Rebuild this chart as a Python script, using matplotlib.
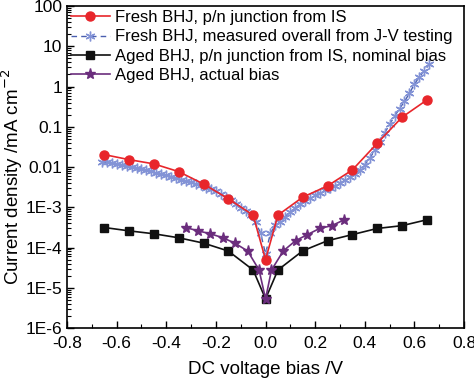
import matplotlib
matplotlib.use("Agg")
import matplotlib.pyplot as plt
from matplotlib.ticker import FixedLocator, LogLocator, NullFormatter, MultipleLocator

plt.rcParams['font.family'] = ['Liberation Sans', 'DejaVu Sans']

# Fresh BHJ, p/n junction from IS
fresh_is_v = [-0.65, -0.55, -0.45, -0.35, -0.25, -0.15, -0.05, 0.0,
              0.05, 0.15, 0.25, 0.35, 0.45, 0.55, 0.65]
fresh_is_j = [0.0204, 0.0153, 0.0120, 0.0077, 0.0038, 0.00163, 0.00064, 5.0e-5,
              0.00064, 0.00179, 0.0034, 0.0085, 0.039, 0.173, 0.464]

# Fresh BHJ, measured overall from J-V testing
fresh_jv_v = [-0.66, -0.64, -0.62, -0.60, -0.58, -0.56, -0.54, -0.52, -0.50, -0.48,
              -0.46, -0.44, -0.42, -0.40, -0.38, -0.36, -0.34, -0.32, -0.30, -0.28,
              -0.26, -0.24, -0.22, -0.20, -0.18, -0.16, -0.14, -0.12, -0.10, -0.08,
              -0.06, -0.04, -0.02, 0.0, 0.02, 0.04, 0.06, 0.08, 0.10, 0.12,
              0.14, 0.16, 0.18, 0.20, 0.22, 0.24, 0.26, 0.28, 0.30, 0.32,
              0.34, 0.36, 0.38, 0.40, 0.42, 0.44, 0.46, 0.48, 0.50, 0.52,
              0.54, 0.56, 0.58, 0.60, 0.62, 0.64, 0.66]
fresh_jv_j = [0.0137, 0.0130, 0.0124, 0.0118, 0.0112, 0.0106, 0.0100, 0.0095, 0.0090, 0.0084,
              0.0078, 0.0073, 0.0068, 0.0063, 0.0058, 0.0053, 0.0049, 0.0045, 0.0042, 0.0038,
              0.0035, 0.0031, 0.0028, 0.0025, 0.0021, 0.0018, 0.0015, 0.0012, 0.00098, 0.00080,
              0.00063, 0.00042, 0.00023, 7e-5, 0.00023, 0.00036, 0.00044, 0.00058, 0.00078, 0.00095,
              0.00120, 0.00145, 0.00170, 0.00200, 0.00230, 0.00265, 0.00300, 0.00340, 0.00400, 0.00470,
              0.00560, 0.00680, 0.0085, 0.0115, 0.0165, 0.026, 0.042, 0.070, 0.115, 0.185,
              0.28, 0.43, 0.68, 1.15, 1.75, 2.5, 3.6]

# Aged BHJ, p/n junction from IS, nominal bias
aged_nom_v = [-0.65, -0.55, -0.45, -0.35, -0.25, -0.15, -0.05, 0.0,
              0.05, 0.15, 0.25, 0.35, 0.45, 0.55, 0.65]
aged_j = [3.15e-4, 2.6e-4, 2.2e-4, 1.75e-4, 1.29e-4, 8.2e-5, 2.77e-5, 5.3e-6,
          2.77e-5, 8.3e-5, 1.48e-4, 2.1e-4, 2.98e-4, 3.5e-4, 4.9e-4]

# Aged BHJ, actual bias
aged_act_v = [-0.322, -0.272, -0.222, -0.172, -0.124, -0.072, -0.026, 0.0,
              0.024, 0.072, 0.121, 0.169, 0.218, 0.267, 0.317]

fig = plt.figure(figsize=(4.74, 3.81), dpi=100)
ax = fig.add_axes([0.1414, 0.139, 0.8376, 0.845])

ax.plot(fresh_is_v, fresh_is_j, color='#e8262b', marker='o', markersize=6.5,
        linewidth=1.2, label='Fresh BHJ, p/n junction from IS', zorder=4)
ax.plot(fresh_jv_v, fresh_jv_j, color='#4a5fb0', linestyle=(0, (4, 3)), linewidth=1.0,
        marker=(6, 2, 0), markersize=7, markeredgecolor='#8393d6', markeredgewidth=1.0,
        label='Fresh BHJ, measured overall from J-V testing', zorder=3)
ax.plot(aged_nom_v, aged_j, color='#111111', marker='s', markersize=5.5,
        linewidth=1.2, label='Aged BHJ, p/n junction from IS, nominal bias', zorder=3)
ax.plot(aged_act_v, aged_j, color='#6b2d7d', marker='*', markersize=8,
        linewidth=1.2, label='Aged BHJ, actual bias', zorder=3)

ax.set_yscale('log')
ax.set_xlim(-0.8, 0.8)
ax.set_ylim(1e-6, 100)
ax.xaxis.set_minor_locator(MultipleLocator(0.1))
ax.set_xticks([-0.8, -0.6, -0.4, -0.2, 0.0, 0.2, 0.4, 0.6, 0.8])
ax.set_xticklabels(['-0.8', '-0.6', '-0.4', '-0.2', '0.0', '0.2', '0.4', '0.6', '0.8'])
ax.yaxis.set_major_locator(FixedLocator([1e-6, 1e-5, 1e-4, 1e-3, 1e-2, 1e-1, 1, 10, 100]))
ax.set_yticklabels(['1E-6', '1E-5', '1E-4', '1E-3', '0.01', '0.1', '1', '10', '100'])
ax.yaxis.set_minor_locator(LogLocator(base=10, subs=range(2, 10), numticks=20))
ax.yaxis.set_minor_formatter(NullFormatter())

ax.tick_params(which='both', direction='in', top=False, right=False, labelsize=12.5)
ax.tick_params(which='major', length=5, width=1)
ax.tick_params(which='minor', length=3, width=0.8)
ax.tick_params(axis='x', pad=6)
for s in ax.spines.values():
    s.set_linewidth(1.2)

ax.set_xlabel('DC voltage bias /V', fontsize=13.5, labelpad=7)
ax.set_ylabel('Current density /mA cm$^{-2}$', fontsize=13.5)
ax.yaxis.set_label_coords(-0.105, 0.47)

ax.legend(loc='upper left', frameon=False, fontsize=12, handlelength=2.3,
          handletextpad=0.3, labelspacing=0.25, borderaxespad=0.05,
          borderpad=0.2)

fig.savefig('out.png', dpi=100)
